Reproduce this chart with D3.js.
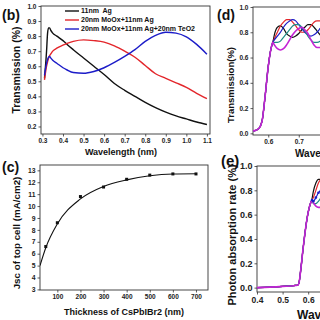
<!DOCTYPE html>
<html>
<head>
<meta charset="utf-8">
<script src="https://cdn.jsdelivr.net/npm/d3@7"></script>
<style>
  html, body { margin: 0; padding: 0; background: #fff; }
  svg { display: block; }
  text { font-family: "Liberation Sans", Arial, sans-serif; font-weight: bold; }
</style>
</head>
<body>
<svg id="chart" width="320" height="320"></svg>
<script>
// ---------- Panel (b): transmission of electrodes ----------
const bWave = [0.31, 0.32, 0.325, 0.33, 0.335, 0.34, 0.35, 0.37, 0.40, 0.42, 0.45, 0.50, 0.55, 0.60, 0.65, 0.70, 0.75, 0.80, 0.85, 0.90, 0.95, 1.00, 1.05, 1.10];
const bAg          = [0.52, 0.70, 0.82, 0.855, 0.855, 0.84, 0.82, 0.80, 0.77, 0.745, 0.71, 0.655, 0.60, 0.545, 0.485, 0.44, 0.40, 0.36, 0.325, 0.295, 0.27, 0.25, 0.23, 0.213];
const bMoOxAg      = [0.51, 0.60, 0.63, 0.655, 0.67, 0.68, 0.70, 0.72, 0.74, 0.752, 0.765, 0.775, 0.77, 0.76, 0.735, 0.70, 0.66, 0.605, 0.55, 0.52, 0.49, 0.46, 0.42, 0.385];
const bMoOxAgTeO2  = [0.54, 0.62, 0.645, 0.66, 0.665, 0.655, 0.64, 0.62, 0.59, 0.575, 0.558, 0.553, 0.565, 0.59, 0.625, 0.665, 0.71, 0.765, 0.805, 0.826, 0.82, 0.795, 0.745, 0.68];
const bLegend = ["11nm  Ag", "20nm MoOx+11nm Ag", "20nm MoOx+11nm Ag+20nm TeO2"];
const bXTicks = [0.3, 0.4, 0.5, 0.6, 0.7, 0.8, 0.9, 1.0, 1.1];
const bYTicks = [0.2, 0.3, 0.4, 0.5, 0.6, 0.7, 0.8, 0.9, 1.0];

// ---------- Panel (c): Jsc vs thickness ----------
const cThickness = [50, 100, 200, 300, 400, 500, 600, 700];
const cJsc       = [6.6, 8.6, 10.8, 11.6, 12.25, 12.6, 12.7, 12.7];
const cFitThickness = [25, 50, 100, 200, 300, 400, 500, 600, 700];
const cFitJsc       = [5.0, 6.5, 8.5, 10.6, 11.65, 12.2, 12.55, 12.7, 12.72];
const cXTicks = [100, 200, 300, 400, 500, 600, 700];
const cYTicks = [3, 4, 5, 6, 7, 8, 9, 10, 11, 12, 13];

// ---------- Panel (d): transmission spectra ----------
const dWave = [0.55, 0.56, 0.57, 0.58, 0.59, 0.60, 0.61, 0.615, 0.62, 0.63, 0.64, 0.65, 0.66, 0.67, 0.68, 0.69, 0.70, 0.71, 0.72, 0.73, 0.74, 0.75, 0.76, 0.77, 0.78];
const dBlack   = [0.02, 0.025, 0.04, 0.10, 0.30, 0.53, 0.68, 0.72, 0.78, 0.84, 0.85, 0.83, 0.79, 0.77, 0.76, 0.77, 0.79, 0.82, 0.84, 0.86, 0.86, 0.84, 0.81, 0.78, 0.76];
const dRed     = [0.02, 0.025, 0.04, 0.10, 0.30, 0.53, 0.68, 0.72, 0.75, 0.80, 0.85, 0.88, 0.90, 0.90, 0.88, 0.85, 0.82, 0.80, 0.80, 0.82, 0.85, 0.88, 0.89, 0.89, 0.87];
const dBlue    = [0.02, 0.025, 0.04, 0.10, 0.30, 0.53, 0.68, 0.72, 0.74, 0.77, 0.80, 0.84, 0.87, 0.89, 0.90, 0.89, 0.86, 0.83, 0.80, 0.78, 0.77, 0.78, 0.80, 0.83, 0.86];
const dTeal    = [0.02, 0.025, 0.04, 0.10, 0.30, 0.53, 0.68, 0.72, 0.72, 0.72, 0.73, 0.76, 0.79, 0.82, 0.85, 0.86, 0.86, 0.84, 0.81, 0.77, 0.74, 0.72, 0.72, 0.73, 0.76];
const dMagenta = [0.02, 0.025, 0.04, 0.10, 0.30, 0.53, 0.68, 0.72, 0.70, 0.67, 0.66, 0.67, 0.70, 0.74, 0.78, 0.81, 0.83, 0.84, 0.82, 0.79, 0.74, 0.70, 0.68, 0.68, 0.69];
const dXTicks = [0.6, 0.7];
const dYTicks = [0.0, 0.2, 0.4, 0.6, 0.8, 1.0];

// ---------- Panel (e): photon absorption rate ----------
const eWave = [0.40, 0.45, 0.50, 0.55, 0.56, 0.565, 0.57, 0.58, 0.59, 0.60, 0.61, 0.615, 0.62, 0.63, 0.64, 0.65, 0.66];
const eBlack   = [0.0, 0.004, 0.01, 0.018, 0.022, 0.05, 0.13, 0.32, 0.49, 0.62, 0.70, 0.73, 0.79, 0.86, 0.89, 0.89, 0.87];
const eRed     = [0.0, 0.004, 0.01, 0.018, 0.022, 0.05, 0.13, 0.32, 0.49, 0.62, 0.70, 0.72, 0.74, 0.80, 0.86, 0.89, 0.90];
const eBlue    = [0.0, 0.004, 0.01, 0.018, 0.022, 0.05, 0.13, 0.32, 0.49, 0.62, 0.70, 0.72, 0.71, 0.74, 0.78, 0.80, 0.82];
const eTeal    = [0.0, 0.004, 0.01, 0.018, 0.022, 0.05, 0.13, 0.32, 0.49, 0.62, 0.70, 0.72, 0.69, 0.69, 0.71, 0.74, 0.77];
const eMagenta = [0.0, 0.004, 0.01, 0.018, 0.022, 0.05, 0.13, 0.32, 0.49, 0.62, 0.70, 0.72, 0.70, 0.67, 0.66, 0.66, 0.68];
const eXTicks = [0.4, 0.5, 0.6];
const eYTicks = [0.0, 0.2, 0.4, 0.6, 0.8, 1.0];

const colBlack = "#111111", colRed = "#e3262b", colBlue = "#1c1cc8", colTeal = "#1e8c86", colMagenta = "#c424d4";

const svg = d3.select("#chart");
svg.append("rect").attr("width", 320).attr("height", 320).attr("fill", "#fff");

let clipId = 0;
function panel(opt) {
  const g = svg.append("g");
  const [x0, x1] = opt.x.range();
  const [y0, y1] = opt.y.range(); // y0 bottom, y1 top
  const id = "clip" + (clipId++);
  svg.append("clipPath").attr("id", id).append("rect")
    .attr("x", x0).attr("y", y1).attr("width", x1 - x0).attr("height", y0 - y1);

  const xAxis = d3.axisBottom(opt.x).tickValues(opt.xTicks).tickSize(2.5).tickPadding(2).tickFormat(opt.xFmt);
  const yAxis = d3.axisLeft(opt.y).tickValues(opt.yTicks).tickSize(2.5).tickPadding(2).tickFormat(opt.yFmt);
  const gx = g.append("g").attr("transform", `translate(0,${y0})`).call(xAxis);
  const gy = g.append("g").attr("transform", `translate(${x0},0)`).call(yAxis);
  [gx, gy].forEach(a => {
    a.select(".domain").remove();
    a.selectAll(".tick line").attr("stroke", "#333").attr("stroke-width", 0.8);
  });
  gx.selectAll(".tick text").attr("font-size", opt.xTickSize).attr("fill", "#222");
  gy.selectAll(".tick text").attr("font-size", opt.yTickSize).attr("fill", "#222");

  g.append("rect").attr("x", x0).attr("y", y1).attr("width", x1 - x0).attr("height", y0 - y1)
    .attr("fill", "none").attr("stroke", "#333").attr("stroke-width", 0.9);

  const plot = g.append("g").attr("clip-path", `url(#${id})`);
  return { g, plot };
}

function drawLine(target, xs, ys, x, y, color, width, curve) {
  const pts = xs.map((v, i) => [v, ys[i]]);
  target.append("path").datum(pts)
    .attr("fill", "none").attr("stroke", color).attr("stroke-width", width)
    .attr("stroke-linejoin", "round")
    .attr("d", d3.line().x(d => x(d[0])).y(d => y(d[1])).curve(curve || d3.curveMonotoneX));
}

// ===== Panel (b) =====
const xb = d3.scaleLinear().domain([0.293, 1.115]).range([41, 210]);
const yb = d3.scaleLinear().domain([0.15, 1.0]).range([134, 6]);
const pb = panel({ x: xb, y: yb, xTicks: bXTicks, yTicks: bYTicks, xFmt: d3.format(".1f"), yFmt: d3.format(".1f"), xTickSize: 6.5, yTickSize: 6.5 });
drawLine(pb.plot, bWave, bAg, xb, yb, colBlack, 1.4);
drawLine(pb.plot, bWave, bMoOxAg, xb, yb, colRed, 1.4);
drawLine(pb.plot, bWave, bMoOxAgTeO2, xb, yb, colBlue, 1.4);
const bCols = [colBlack, colRed, colBlue];
bLegend.forEach((t, i) => {
  const yy = 11 + i * 9;
  pb.g.append("line").attr("x1", 65).attr("x2", 79).attr("y1", yy).attr("y2", yy).attr("stroke", bCols[i]).attr("stroke-width", 1.4);
  pb.g.append("text").attr("x", 81).attr("y", yy + 2.4).attr("font-size", 7).attr("fill", "#111").attr("xml:space", "preserve").text(t);
});
svg.append("text").attr("transform", "translate(20,70) rotate(-90)").attr("text-anchor", "middle").attr("font-size", 10.5).attr("fill", "#111").text("Transmission (%)");
svg.append("text").attr("x", 121).attr("y", 155).attr("text-anchor", "middle").attr("font-size", 9).attr("fill", "#111").text("Wavelength (nm)");
svg.append("text").attr("x", 2).attr("y", 20).attr("font-size", 14).attr("fill", "#111").text("(b)");

// ===== Panel (c) =====
const xc = d3.scaleLinear().domain([25, 752]).range([40, 208]);
const yc = d3.scaleLinear().domain([2.95, 13.45]).range([290, 165]);
const pc = panel({ x: xc, y: yc, xTicks: cXTicks, yTicks: cYTicks, xFmt: d3.format("d"), yFmt: d3.format("d"), xTickSize: 6.5, yTickSize: 6.8 });
drawLine(pc.plot, cFitThickness, cFitJsc, xc, yc, colBlack, 1.1);
pc.plot.selectAll("rect.pt").data(cThickness.map((v, i) => [v, cJsc[i]])).enter().append("rect")
  .attr("x", d => xc(d[0]) - 1.5).attr("y", d => yc(d[1]) - 1.5).attr("width", 3).attr("height", 3).attr("fill", colBlack);
svg.append("text").attr("transform", "translate(20,233) rotate(-90)").attr("text-anchor", "middle").attr("font-size", 9.8).attr("fill", "#111").text("Jsc of top cell (mA/cm2)");
svg.append("text").attr("x", 124).attr("y", 315).attr("text-anchor", "middle").attr("font-size", 9).attr("fill", "#111").text("Thickness of CsPbIBr2 (nm)");
svg.append("text").attr("x", 2).attr("y", 172).attr("font-size", 14).attr("fill", "#111").text("(c)");

// ===== Panel (d) =====
const xd = d3.scaleLinear().domain([0.55, 0.9]).range([253, 359.75]);
const yd = d3.scaleLinear().domain([-0.013, 1.0]).range([135, 7]);
const pd = panel({ x: xd, y: yd, xTicks: dXTicks, yTicks: dYTicks, xFmt: d3.format(".1f"), yFmt: d3.format(".1f"), xTickSize: 6.5, yTickSize: 6.5 });
[[dBlack, colBlack], [dRed, colRed], [dBlue, colBlue], [dTeal, colTeal], [dMagenta, colMagenta]].forEach(([s, c], i) => {
  drawLine(pd.plot, dWave, s, xd, yd, c, i === 4 ? 1.6 : 1.2);
});
svg.append("text").attr("transform", "translate(234,85) rotate(-90)").attr("text-anchor", "middle").attr("font-size", 9.5).attr("fill", "#111").text("Transmission(%)");
svg.append("text").attr("x", 295).attr("y", 157).attr("font-size", 10).attr("fill", "#111").text("Wavelength (nm)");
svg.append("text").attr("x", 217).attr("y", 20).attr("font-size", 14).attr("fill", "#111").text("(d)");

// ===== Panel (e) =====
const xe = d3.scaleLinear().domain([0.4, 0.9]).range([257, 385]);
const ye = d3.scaleLinear().domain([-0.036, 1.0]).range([292, 166]);
const pe = panel({ x: xe, y: ye, xTicks: eXTicks, yTicks: eYTicks, xFmt: d3.format(".1f"), yFmt: d3.format(".1f"), xTickSize: 8.5, yTickSize: 9 });
[[eBlack, colBlack], [eRed, colRed], [eBlue, colBlue], [eTeal, colTeal], [eMagenta, colMagenta]].forEach(([s, c], i) => {
  drawLine(pe.plot, eWave, s, xe, ye, c, i === 4 ? 1.6 : 1.2);
});
pe.plot.selectAll("circle.bd").data(eWave.map((v, i) => [v, eBlue[i]]).filter(d => d[0] >= 0.615)).enter().append("circle")
  .attr("cx", d => xe(d[0])).attr("cy", d => ye(d[1])).attr("r", 1.3).attr("fill", colBlue);
svg.append("text").attr("transform", "translate(236,235) rotate(-90)").attr("text-anchor", "middle").attr("font-size", 11).attr("fill", "#111").text("Photon absorption rate (%)");
svg.append("text").attr("x", 297).attr("y", 319).attr("font-size", 12).attr("fill", "#111").text("Wavelength (nm)");
svg.append("text").attr("x", 221).attr("y", 166).attr("font-size", 15).attr("fill", "#111").text("(e)");
</script>
</body>
</html>
